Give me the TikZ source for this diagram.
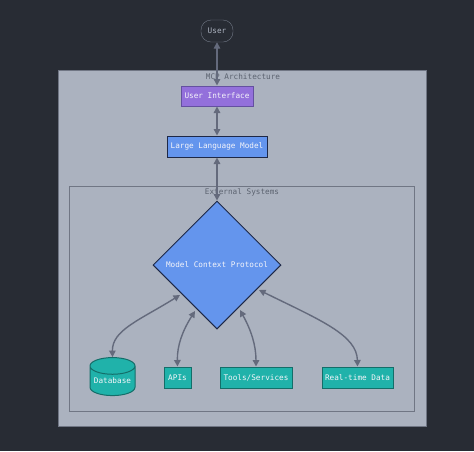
\documentclass[tikz,border=0pt]{standalone}
\usepackage{fontspec}
\setmonofont{DejaVu Sans Mono}
\usetikzlibrary{shapes.geometric,arrows.meta}
\definecolor{bgc}{RGB}{40,44,52}
\definecolor{clfill}{RGB}{171,178,191}
\definecolor{clline}{RGB}{112,118,132}
\definecolor{edgec}{RGB}{100,106,124}
\definecolor{purp}{RGB}{147,112,219}
\definecolor{purpd}{RGB}{100,80,160}
\definecolor{blu}{RGB}{100,149,237}
\definecolor{blud}{RGB}{30,40,70}
\definecolor{teal}{RGB}{32,178,170}
\definecolor{teald}{RGB}{20,110,105}
\definecolor{txtc}{RGB}{245,245,250}
\definecolor{labc}{RGB}{92,99,112}
\tikzset{
  every node/.style={font=\ttfamily\fontsize{7.7}{9}\selectfont, text=txtc},
  boxn/.style={draw, line width=1pt, inner sep=0pt, minimum height=20pt},
  tealbox/.style={boxn, fill=teal, draw=teald, minimum height=21pt},
  conn/.style={draw=edgec, line width=1.4pt, {Triangle[length=6.5pt,width=6.5pt]}-{Triangle[length=6.5pt,width=6.5pt]}},
  cllabel/.style={text=labc}
}
\begin{document}
\begin{tikzpicture}[x=1pt,y=-1pt]
\useasboundingbox (0,0) rectangle (474,451);
\fill[bgc] (0,0) rectangle (474,451);
\filldraw[fill=clfill, draw=clline, line width=0.8pt] (58,70) rectangle (426,426);
\draw[clline, line width=1pt] (69,186) rectangle (414,411);
\node[cllabel] (lab1) at (243,77) {MCP Architecture};
\node[cllabel] (lab2) at (242,192) {External Systems};

\node[draw=clline, fill=bgc, rounded corners=10pt, minimum width=32pt, minimum height=22pt, inner sep=0pt, text=clfill] (user) at (217,31) {User};
\node[boxn, fill=purp, draw=purpd, minimum width=72pt] (ui) at (217,96) {User Interface};
\node[boxn, fill=blu, draw=blud, minimum width=100pt, minimum height=21pt] (llm) at (217,146.5) {Large Language Model};
\node[diamond, draw=blud, fill=blu, line width=1pt, minimum width=128pt, minimum height=128pt, inner sep=0pt] (mcp) at (217,265) {Model Context Protocol};

\node[cylinder, shape border rotate=90, aspect=0.45, draw=teald, fill=teal, line width=1pt, minimum width=45pt, minimum height=38pt, inner sep=0pt] (db) at (112.5,381) {Database};
\node[tealbox, minimum width=27pt] (api) at (177.5,377.5) {APIs};
\node[tealbox, minimum width=72pt] (tools) at (256,377.5) {Tools/Services};
\node[tealbox, minimum width=71pt] (rt) at (357.5,377.5) {Real-time Data};

\draw[conn] (user.south) -- (ui.north);
\draw[conn] (ui.south) -- (llm.north);
\draw[conn] (llm.south) -- (mcp.north);
\coordinate (m1) at (180,295);
\coordinate (m2) at (195,311);
\coordinate (m3) at (240,310);
\coordinate (m4) at (259,290);
\draw[conn] (m1) .. controls (140,320) and (112,330) .. (db.north);
\draw[conn] (m2) .. controls (183,330) and (177,345) .. (api.north);
\draw[conn] (m3) .. controls (251,330) and (256,345) .. (tools.north);
\draw[conn] (m4) .. controls (320,320) and (357,335) .. (rt.north);
\end{tikzpicture}
\end{document}
